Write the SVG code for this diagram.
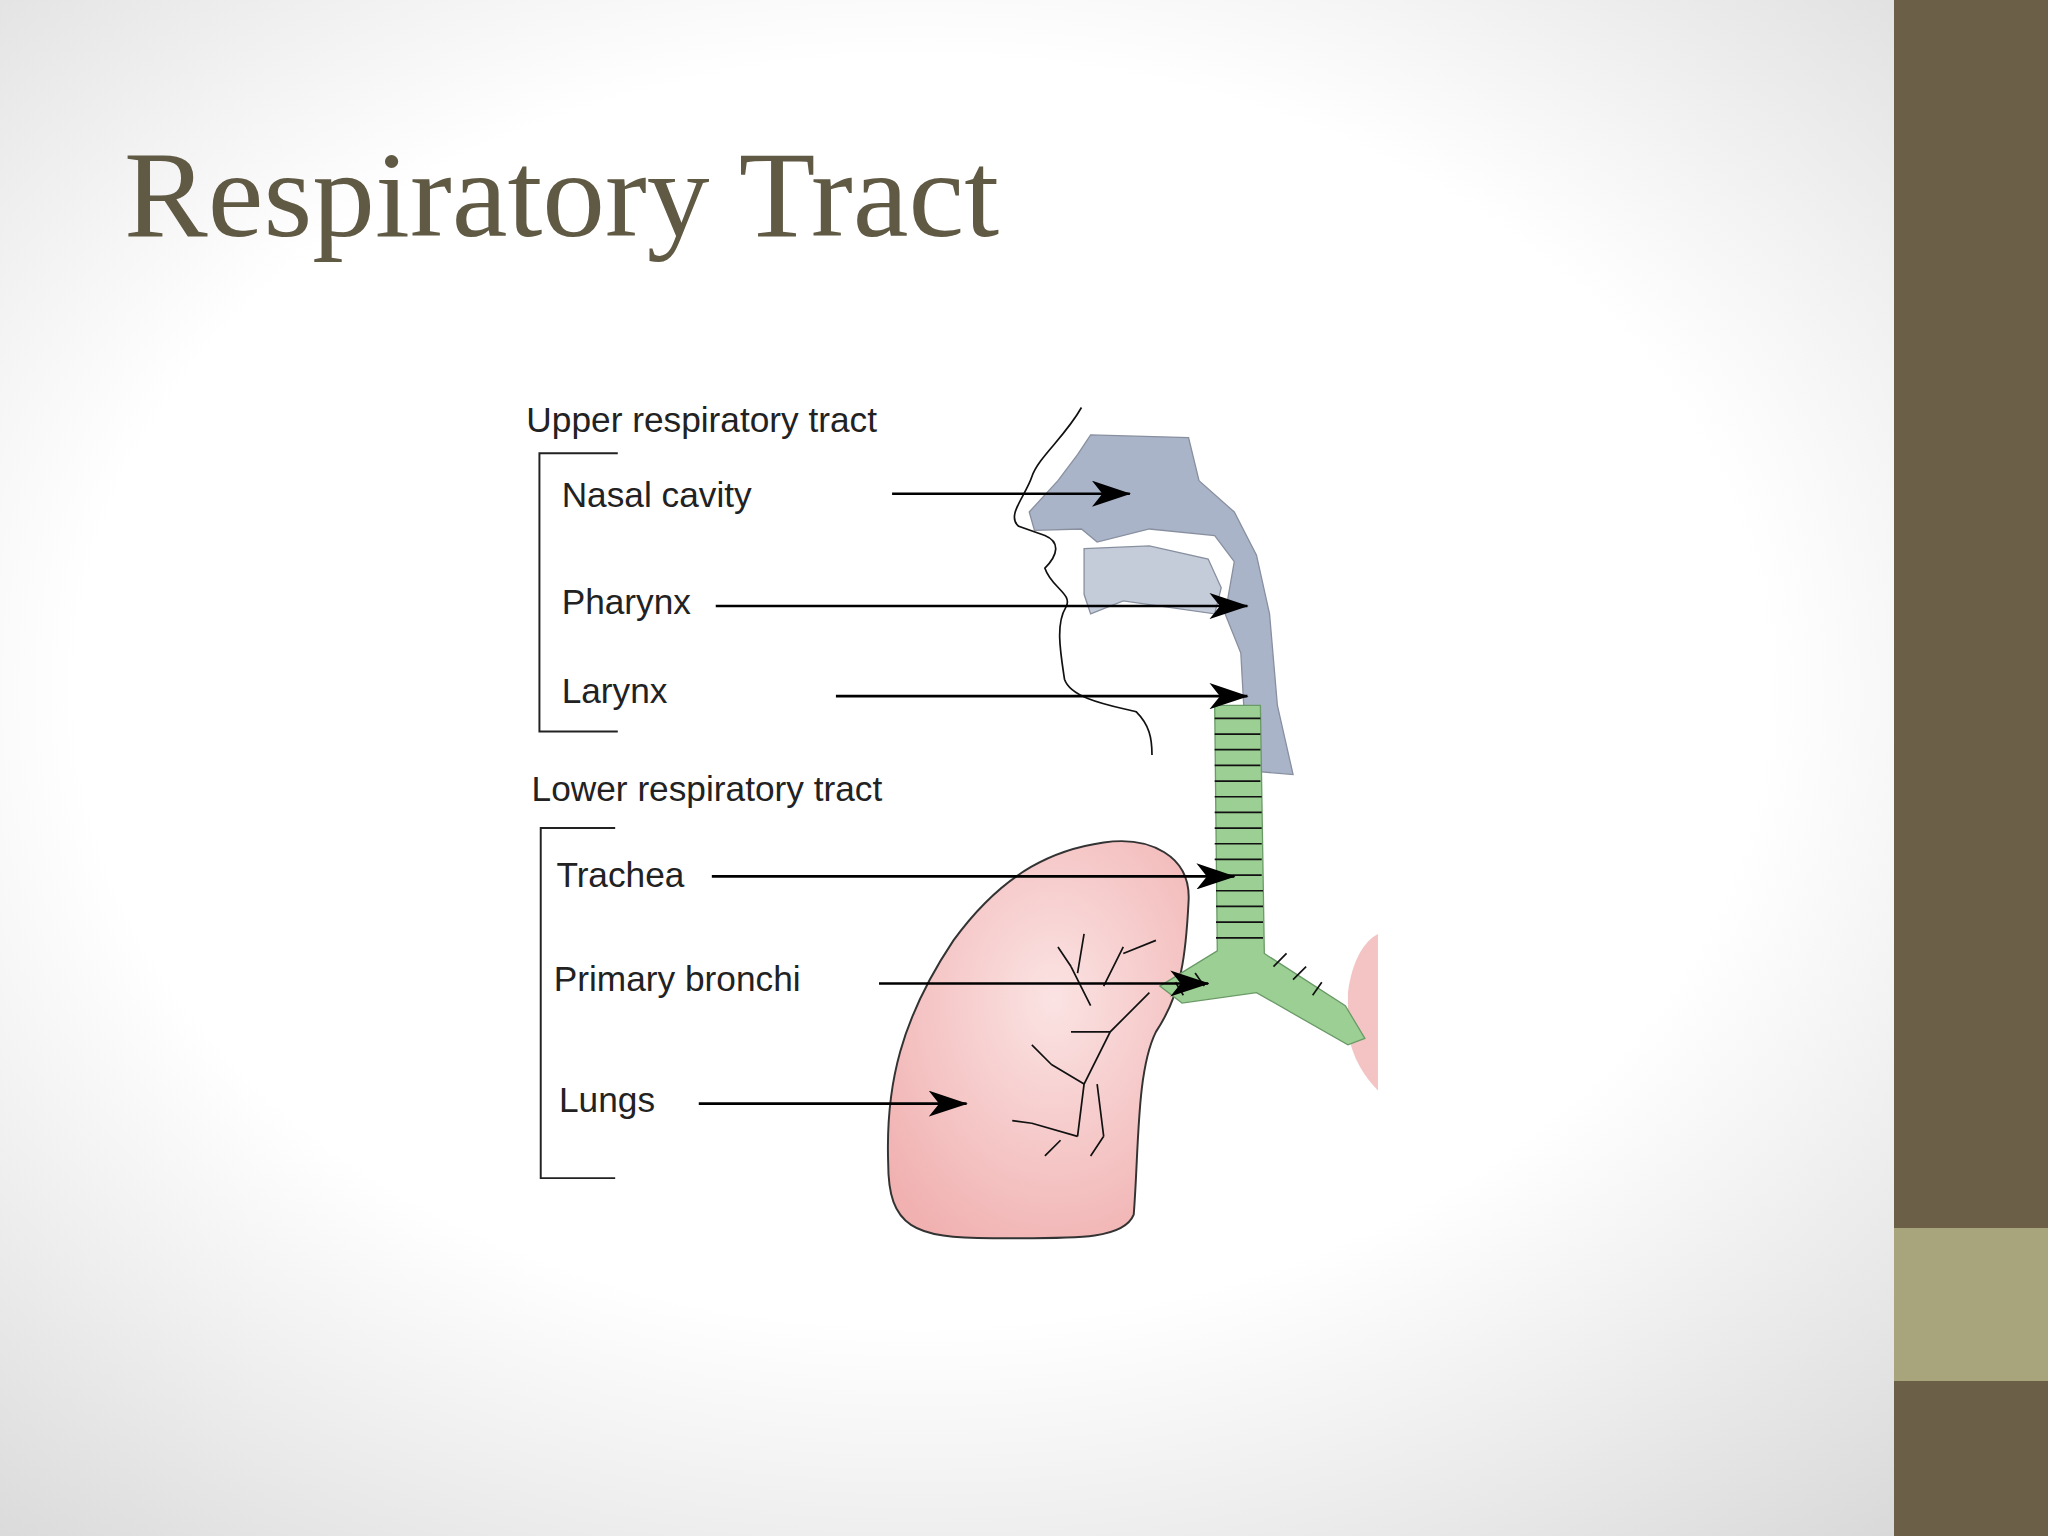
<svg xmlns="http://www.w3.org/2000/svg" width="2048" height="1536" viewBox="0 0 2048 1536">
<defs>
<radialGradient id="bg" cx="0.45" cy="0.45" r="0.75">
<stop offset="0.55" stop-color="#ffffff"/><stop offset="1" stop-color="#d6d6d6"/>
</radialGradient>
<radialGradient id="lung" cx="0.55" cy="0.4" r="0.7">
<stop offset="0" stop-color="#fbe3e3"/><stop offset="1" stop-color="#f1b1b1"/>
</radialGradient>
<marker id="ah" viewBox="0 0 30 20" refX="29" refY="10" markerWidth="30" markerHeight="20" markerUnits="userSpaceOnUse" orient="auto">
<path d="M0,0 L30,10 L0,20 L8,10 Z" fill="#000"/>
</marker>
<style>
.lbl{font-family:"Liberation Sans",Arial,sans-serif;font-size:27px;fill:#222}
.arr{stroke:#000;stroke-width:2;fill:none;marker-end:url(#ah)}
.br{stroke:#222;stroke-width:1.5;fill:none}
.ln{stroke:#111;stroke-width:1.3;fill:none}
</style>
</defs>
<rect width="2048" height="1536" fill="url(#bg)"/>
<rect x="1894" y="0" width="154" height="1536" fill="#6b5f48"/>
<rect x="1894" y="1228" width="154" height="153" fill="#a8a47c"/>
<text x="124" y="236" font-family="Liberation Serif,serif" font-size="122" fill="#605a45" textLength="875" lengthAdjust="spacingAndGlyphs">Respiratory Tract</text>
<g transform="scale(1.30612)">
<g id="lungs">
<path d="M845,645 C880,640 912,655 910,690 C908,730 905,760 885,790 C870,820 872,880 868,930 C860,950 820,948 760,948 C700,948 680,940 680,890 C678,830 690,780 730,720 C770,665 810,650 845,645 Z" fill="url(#lung)" stroke="#333" stroke-width="1.5"/>
<path d="M1032,760 C1035,735 1045,720 1055,715 L1055,835 C1045,825 1035,810 1032,790 Z" fill="#f4c4c4"/>
<path class="ln" d="M880,760 L850,790 L830,830 L825,870 M850,790 L820,790 M835,770 L820,740 M825,745 L830,715 M820,740 L810,725 M845,755 L860,725 M860,730 L885,720 M830,830 L805,815 M805,815 L790,800 M825,870 L790,860 M790,860 L775,858 M812,873 L800,885 M840,830 L845,870 M845,870 L835,885"/>
</g>
<g id="upper-airway">
<path d="M835,333 L910,335 L918,368 L945,392 L962,425 L972,470 L978,540 L990,593 L955,590 L950,500 L938,470 L945,430 L930,410 L880,405 L840,415 L828,405 L792,406 L788,392 L810,368 L825,348 Z" fill="#aab4c8" stroke="#8890a0" stroke-width="1"/>
<path d="M830,420 L880,418 L925,428 L935,450 L930,470 L860,460 L835,470 L830,455 Z" fill="#c4cbd9" stroke="#8890a0" stroke-width="1"/>
<path class="ln" d="M828,312 C815,335 795,350 790,365 C785,380 770,395 780,403 L800,410 C812,415 810,425 800,435 C805,450 822,455 816,465 C808,478 812,500 815,520 C820,535 850,540 870,545 C880,555 882,565 882,578"/>
</g>
<g id="trachea">
<path d="M930,540 L965,540 L968,730 L1030,770 L1045,795 L1032,800 L962,760 L905,768 L888,755 L932,728 Z" fill="#9ccf94" stroke="#6a9a66" stroke-width="1"/>
<path class="ln" d="M930,550 H965 M930,562 H965 M930,574 H965 M930,586 H965 M930,598 H965 M930,610 H966 M930,622 H966 M930,634 H966 M930,646 H966 M930,658 H966 M930,670 H966 M931,682 H967 M931,694 H967 M931,706 H967 M931,718 H967 M975,740 L985,730 M990,750 L1000,740 M1005,762 L1012,752 M915,745 L922,755 M900,752 L906,762"/>
</g>
<g id="labels">
<text class="lbl" x="403" y="331">Upper respiratory tract</text>
<text class="lbl" x="430" y="388">Nasal cavity</text>
<text class="lbl" x="430" y="470">Pharynx</text>
<text class="lbl" x="430" y="538">Larynx</text>
<text class="lbl" x="407" y="613">Lower respiratory tract</text>
<text class="lbl" x="426" y="679">Trachea</text>
<text class="lbl" x="424" y="759">Primary bronchi</text>
<text class="lbl" x="428" y="851">Lungs</text>
<path class="br" d="M473,347 H413 V560 H473 M471,634 H414 V902 H471"/>
</g>
<g id="connectors">
<line class="arr" x1="683" y1="378" x2="865" y2="378"/>
<line class="arr" x1="548" y1="464" x2="955" y2="464"/>
<line class="arr" x1="640" y1="533" x2="955" y2="533"/>
<line class="arr" x1="545" y1="671" x2="945" y2="671"/>
<line class="arr" x1="673" y1="753" x2="925" y2="753"/>
<line class="arr" x1="535" y1="845" x2="740" y2="845"/>
</g>
</g>
</svg>
